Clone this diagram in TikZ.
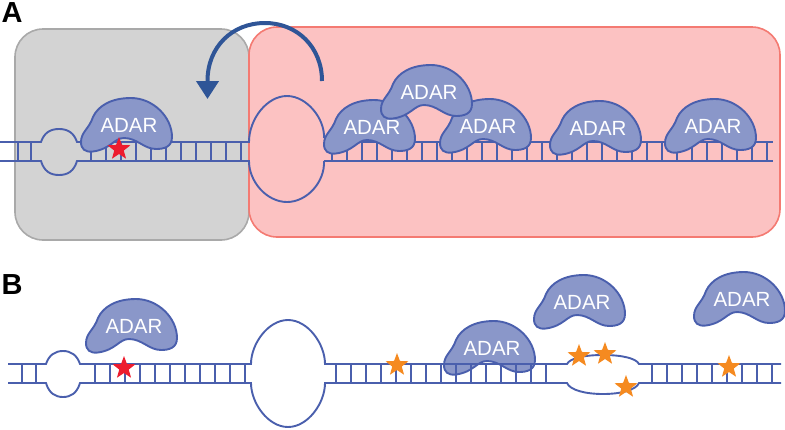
\documentclass[tikz,border=0pt]{standalone}
\usepackage{fontspec}
\setmainfont{Liberation Sans}
\usepackage{tikz}
\usetikzlibrary{shapes.geometric, arrows.meta}
\definecolor{strandblue}{HTML}{4A5FAD}
\definecolor{adarfill}{HTML}{8A97C9}
\definecolor{arrowblue}{HTML}{2F5597}
\definecolor{pinkfill}{HTML}{FCC2C2}
\definecolor{pinkline}{HTML}{F47A72}
\definecolor{grayfill}{HTML}{D3D3D3}
\definecolor{grayline}{HTML}{A9A9A9}
\definecolor{starred}{HTML}{ED1C2E}
\definecolor{starorange}{HTML}{F58A20}
\tikzstyle{graybox}=[
    draw=grayline,      % grey border of the left panel
    fill=grayfill,
    line width=1.6pt,
    rounded corners=28pt]
\tikzstyle{pinkbox}=[
    draw=pinkline,
    fill=pinkfill,
    line width=1.6pt,
    rounded corners=28pt]
\tikzstyle{strand}=[
    draw=strandblue,
    line width=1.9pt]
\tikzstyle{blob}=[
    draw=strandblue,
    fill=adarfill,
    line width=1.9pt]
\tikzstyle{adartext}=[
    text=white,
    inner sep=0pt,
    font=\fontsize{20.5}{20.5}\selectfont]
\tikzstyle{panellabel}=[
    inner sep=0pt,
    font=\fontsize{29}{29}\selectfont\bfseries]
\tikzstyle{starnode}=[
    star,
    star points=5,
    star point ratio=2.4,
    minimum size=24pt,
    inner sep=0pt]
\tikzstyle{redstar}=[starnode, fill=starred]
\tikzstyle{orangestar}=[starnode, fill=starorange]
\newcommand{\adarshape}{
    (-48,17) .. controls (-48,7) and (-40,4) .. (-36,-8)
    .. controls (-31,-19) and (-18,-27) .. (2,-27)
    .. controls (24,-27) and (43,-8) .. (43,12)
    .. controls (43,22) and (35,24) .. (27,24)
    .. controls (15,24) and (8,13) .. (-5,13)
    .. controls (-15,13) and (-18,24) .. (-36,26.5)
    .. controls (-44,27.5) and (-48,24) .. (-48,17) -- cycle}

\begin{document}
\begin{tikzpicture}[x=1pt, y=-1pt]
        \useasboundingbox (0,0) rectangle (785,429);

        % Panels
        \draw[graybox] (15,29) rectangle (249,240);
        \draw[pinkbox] (249,27) rectangle (780,237);
        \node[panellabel] (labela) at (12,13) {A};
        \node[panellabel] (labelb) at (12,285) {B};

        % Strands of panel A
        \draw[strand] (0,142) -- (41,142) .. controls (44,133) and (50,129) .. (59,129)
            .. controls (68,129) and (74,133) .. (77,142) -- (249,142)
            .. controls (249,119) and (267,96) .. (287,96)
            .. controls (307,96) and (325,119) .. (324,138);
        \draw[strand] (0,161) -- (41,161) .. controls (44,171) and (50,175) .. (59,175)
            .. controls (68,175) and (74,171) .. (77,161) -- (249,161)
            .. controls (249,182) and (267,202) .. (287,202)
            .. controls (307,202) and (325,182) .. (324,161);
        \draw[strand] (324,142) -- (773,142);
        \draw[strand] (324,161) -- (773,161);

        % Rungs of panel A
        \foreach \x in {18,31}
            \draw[strand] (\x,142) -- (\x,161);
        \foreach \x in {91,106,...,241}
            \draw[strand] (\x,142) -- (\x,161);
        \foreach \x in {332,347,...,768}
            \draw[strand] (\x,142) -- (\x,161);

        % Enzymes of panel A
        \foreach \nm/\x/\y in {a1/129/125, a2/372/127, a3/488/126, a4/429/92, a5/598/128, a6/713/126} {
            \draw[blob, shift={(\x,\y)}] \adarshape;
            \node[adartext] (\nm) at (\x,\y) {ADAR};
        }
        \node[redstar] (stara) at (119,149) {};

        % Arrow
        \coordinate (arrowstart) at (322,81);
        \coordinate (arrowend) at (207.5,99);
        \draw[draw=arrowblue, line width=4pt, -{Triangle[length=18pt, width=22pt, fill=arrowblue]}]
            (arrowstart) .. controls (322,47) and (297,23) .. (265,23)
            .. controls (232,23) and (207.5,47) .. (207.5,81) -- (arrowend);

        % Enzyme sitting under the strand of panel B
        \draw[blob, shift={(492,348)}] \adarshape;
        \node[adartext] (b2) at (492,348) {ADAR};

        % Strands of panel B
        \draw[strand] (8,364) -- (46,364) .. controls (49,355) and (55,351) .. (63,351)
            .. controls (71,351) and (77,355) .. (80,364) -- (251,364)
            .. controls (251,344) and (268,320) .. (288,320)
            .. controls (308,320) and (325,344) .. (325,364) -- (567,364)
            .. controls (570,358) and (585,355) .. (603,355)
            .. controls (621,355) and (636,358) .. (639,364) -- (781,364);
        \draw[strand] (8,383) -- (46,383) .. controls (49,393) and (55,397) .. (63,397)
            .. controls (71,397) and (77,393) .. (80,383) -- (251,383)
            .. controls (251,403) and (268,427) .. (288,427)
            .. controls (308,427) and (325,403) .. (325,383) -- (567,383)
            .. controls (570,390) and (585,394) .. (603,394)
            .. controls (621,394) and (636,390) .. (639,383) -- (781,383);

        % Rungs of panel B
        \foreach \x in {22,36}
            \draw[strand] (\x,364) -- (\x,383);
        \foreach \x in {95,110,...,245}
            \draw[strand] (\x,364) -- (\x,383);
        \foreach \x in {336,351,...,546}
            \draw[strand] (\x,364) -- (\x,383);
        \foreach \x in {652,667,...,772}
            \draw[strand] (\x,364) -- (\x,383);

        % Free enzymes of panel B
        \foreach \nm/\x/\y in {b1/134/326, b3/582/302, b4/742/299} {
            \draw[blob, shift={(\x,\y)}] \adarshape;
            \node[adartext] (\nm) at (\x,\y) {ADAR};
        }

        % Edited sites
        \node[redstar] (starb) at (124,368) {};
        \node[orangestar] (o1) at (397,365) {};
        \node[orangestar] (o2) at (579,356) {};
        \node[orangestar] (o3) at (605,354) {};
        \node[orangestar] (o4) at (626,387) {};
        \node[orangestar] (o5) at (729,367) {};
\end{tikzpicture}
\end{document}
